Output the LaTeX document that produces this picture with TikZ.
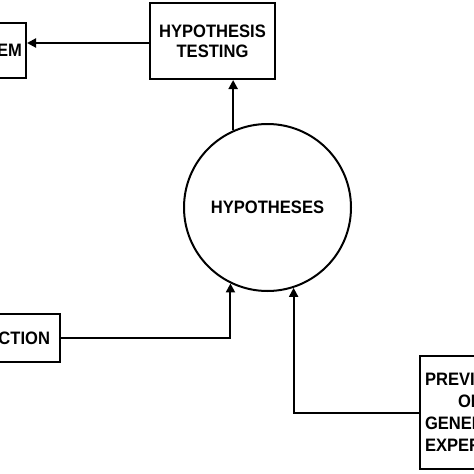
\documentclass[tikz,border=0pt]{standalone}
\usepackage{fontspec}
\setmainfont{Liberation Sans}[FakeStretch=0.92]
\usetikzlibrary{arrows.meta}

\begin{document}
\begin{tikzpicture}[x=1pt, y=-1pt, line width=2pt, >={Triangle[length=9pt,width=9pt]},
  block/.style={rectangle, draw, align=center, font=\fontsize{18}{20}\selectfont\bfseries},
  bubble/.style={circle, draw, inner sep=0pt, minimum size=167pt, font=\fontsize{18}{20}\selectfont\bfseries}]
  {
  \useasboundingbox (0,0) rectangle (474,474);
  \clip (0,0) rectangle (474,474);
  \node[bubble] (hyp) at (267.5,207.5) {HYPOTHESES};
  \node[block, above of=hyp, node distance=166.5pt, xshift=-55pt, minimum width=125pt, minimum height=76pt] (test) {HYPOTHESIS\\TESTING};
  \node[block, anchor=east, minimum height=55pt, inner xsep=4pt] (prob) at (27,50.5) {PROBLEM};
  \node[block, anchor=east, minimum height=48pt, inner xsep=10pt] (ind) at (61,338) {INDUCTION};
  \node[block, anchor=north west, minimum height=113pt, inner xsep=5pt, align=left,
        font=\fontsize{18}{22}\selectfont\bfseries] (prev) at (419,355) {PREVIOUS\\\hspace*{33pt}OR\\GENERAL\\EXPERIENCE};

  \draw[->] ([yshift=-2pt]test.west) -- ([yshift=-2pt]test.west -| prob.east);
  \draw[->] (hyp.114) -- (hyp.114 |- test.south);
  \draw[->] (ind.east) -| (hyp.244);
  \draw[->] (prev.west) -| (hyp.288);
}
\end{tikzpicture}
\end{document}
